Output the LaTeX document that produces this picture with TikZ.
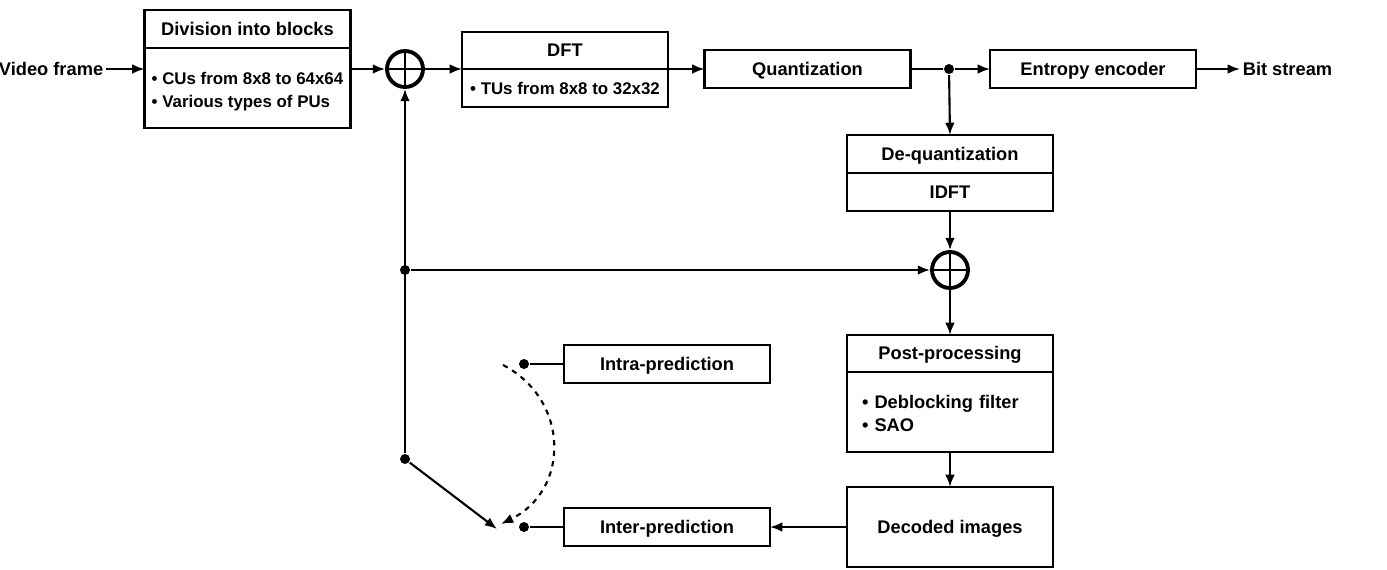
\documentclass[tikz,border=0pt]{standalone}
\usepackage{fontspec}
\setmainfont{Liberation Sans}
\usetikzlibrary{positioning,arrows.meta}
\tikzset{blk/.style={draw,line width=1.2pt,minimum width=4.12cm,minimum height=0.76cm,inner sep=0pt,outer sep=0pt,align=center,text height=0.9em,text depth=0.18em} }
\tikzset{blkbody/.style={blk,align=left,text height={},text depth={},font=\fontsize{9.6}{13}\selectfont\bfseries} }
\tikzset{sum/.style={circle,draw,line width=2.2pt,minimum size=0.72cm,inner sep=0pt,
    path picture={\draw[line width=1.4pt] (path picture bounding box.north) -- (path picture bounding box.south)
      (path picture bounding box.west) -- (path picture bounding box.east);}} }
\tikzset{dot/.style={circle,fill,inner sep=0pt,minimum size=0.2cm} }

\begin{document}
\begin{tikzpicture}[x=0.02cm,y=-0.02cm,line width=1.2pt,>={Latex[length=7pt,width=5.5pt]},
    font=\fontsize{10.4}{13}\selectfont\bfseries]
    \useasboundingbox (0,0) rectangle (1387,569);
    \node[anchor=east,inner xsep=1pt,text height=0.9em,text depth=0.18em] (vf) at (106,69) {Video frame};
    \node[blk] (div) at (247.5,29) {Division into blocks};
    \node[blkbody,below=0pt of div,minimum height=1.6cm,text height=24pt] (divb) {• CUs from 8x8 to 64x64\\• Various types of PUs};
    \node[sum] (s1) at (405,69) {};
    \node[blk,minimum height=0.74cm] (dft) at (565,50.5) {DFT};
    \node[blkbody,below=0pt of dft,minimum height=0.76cm,text height=0.9em,text depth=0.18em] (dftb) {• TUs from 8x8 to 32x32};
    \node[blk] (quant) at (807.5,69) {Quantization};
    \node[dot] (j1) at (949,69) {};
    \node[blk] (ent) at (1093,69) {Entropy encoder};
    \node[anchor=west,inner xsep=1pt,text height=0.9em,text depth=0.18em] (bs) at (1240,69) {Bit stream};
    \node[blk] (deq) at (950,154) {De-quantization};
    \node[blk,below=0pt of deq] (idft) {IDFT};
    \node[sum] (s2) at (950,270) {};
    \node[blk,minimum height=0.74cm] (post) at (950,353.5) {Post-processing};
    \node[blkbody,below=0pt of post,minimum height=1.6cm,inner xsep=0.3cm,text width=3.52cm,text height=0.95em,font=\fontsize{10.4}{13}\selectfont\bfseries] (postb) {• Deblocking filter\\• SAO};
    \node[blk,minimum height=1.6cm] (dec) at (950,527) {Decoded images};
    \node[blk] (inter) at (667,527) {Inter-prediction};
    \node[blk] (intra) at (667,364) {Intra-prediction};
    \node[dot] (p1) at (524,364) {};
    \node[dot] (p2) at (524,527) {};
    \node[dot] (j2) at (405,270) {};
    \node[dot] (j3) at (405,459) {};
    \coordinate (mix) at (497,529);
    \coordinate (arcs) at (503,365);
    \coordinate (arce) at (501,524);
    \draw[->] (vf.east) -- (vf.east -| divb.west);
    \draw[->] (s1.west -| divb.east) -- (s1.west);
    \draw[->] (s1.east) -- (s1.east -| dftb.west);
    \draw[->] (quant.west -| dft.east) -- (quant.west);
    \draw (quant.east) -- (j1);
    \draw[->] (j1) -- (ent.west);
    \draw[->] (ent.east) -- (bs.west);
    \draw[->] (j1) -- (deq.north);
    \draw[->] (idft.south) -- (s2.north);
    \draw[->] (s2.south) -- (post.north);
    \draw[->] (postb.south) -- (dec.north);
    \draw[->] (dec.west) -- (inter.east);
    \draw (p1) -- (intra.west);
    \draw (p2) -- (inter.west);
    \draw[->] (j3) -- (s1.south);
    \draw[->] (j2) -- (s2.west);
    \draw[->] (j3) -- (mix);
    \draw[dashed,->] (arcs) .. controls (570,400) and (570,490) .. (arce);
\end{tikzpicture}
\end{document}
